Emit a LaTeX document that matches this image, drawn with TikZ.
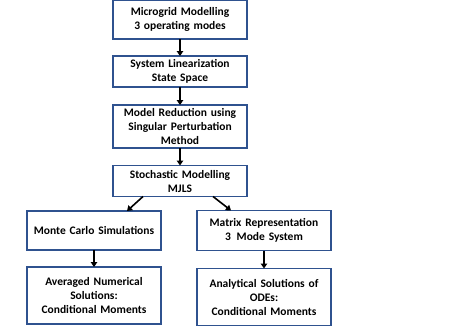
\documentclass[tikz,border=0pt]{standalone}
\usepackage{fontspec}
\setmainfont{Carlito}
\usetikzlibrary{arrows.meta, positioning}
\definecolor{boxblue}{RGB}{47,82,143}

\begin{document}
\begin{tikzpicture}[
    node distance=17pt,
    block/.style={draw=boxblue, line width=1.5pt, rectangle, minimum width=134pt, text width=130pt, inner sep=0pt, outer sep=0pt, align=center, font=\fontsize{11.5}{14}\selectfont\bfseries},
    arrow/.style={-{Triangle[length=5pt, width=6.5pt]}, line width=1.6pt}
]
    \useasboundingbox (0,0) rectangle (474pt,-330pt);
    \node[block, minimum height=39pt] (micro) at (180pt,-19.5pt) {Microgrid Modelling\\3 operating modes};
    \node[block, minimum height=31pt, below=of micro] (linear) {System Linearization\\State Space};
    \node[block, minimum height=43pt, below=18pt of linear] (reduce) {Model Reduction using\\Singular Perturbation\\Method};
    \node[block, minimum height=31pt, below=17.5pt of reduce] (stoch) {Stochastic Modelling\\MJLS};
    \node[block, minimum height=39pt, below=14.5pt of stoch, xshift=-86pt] (monte) {Monte Carlo Simulations};
    \node[block, minimum height=40pt, below=14pt of stoch, xshift=84pt] (repr) {Matrix Representation\\3\enspace Mode System};
    \node[block, minimum height=57pt, below=of monte] (avg) {Averaged Numerical\\Solutions:\\Conditional Moments};
    \node[block, minimum height=57pt, below=18pt of repr] (analytic) {Analytical Solutions of\\ODEs:\\Conditional Moments};

    \draw[arrow] (micro) -- (linear);
    \draw[arrow] (linear) -- (reduce);
    \draw[arrow] (reduce) -- (stoch);
    \draw[arrow] ([xshift=-37pt]stoch.south) -- ([xshift=33pt]monte.north);
    \draw[arrow] ([xshift=33pt]stoch.south) -- ([xshift=-33pt]repr.north);
    \draw[arrow] (monte) -- (avg);
    \draw[arrow] (repr) -- (analytic);
\end{tikzpicture}
\end{document}
